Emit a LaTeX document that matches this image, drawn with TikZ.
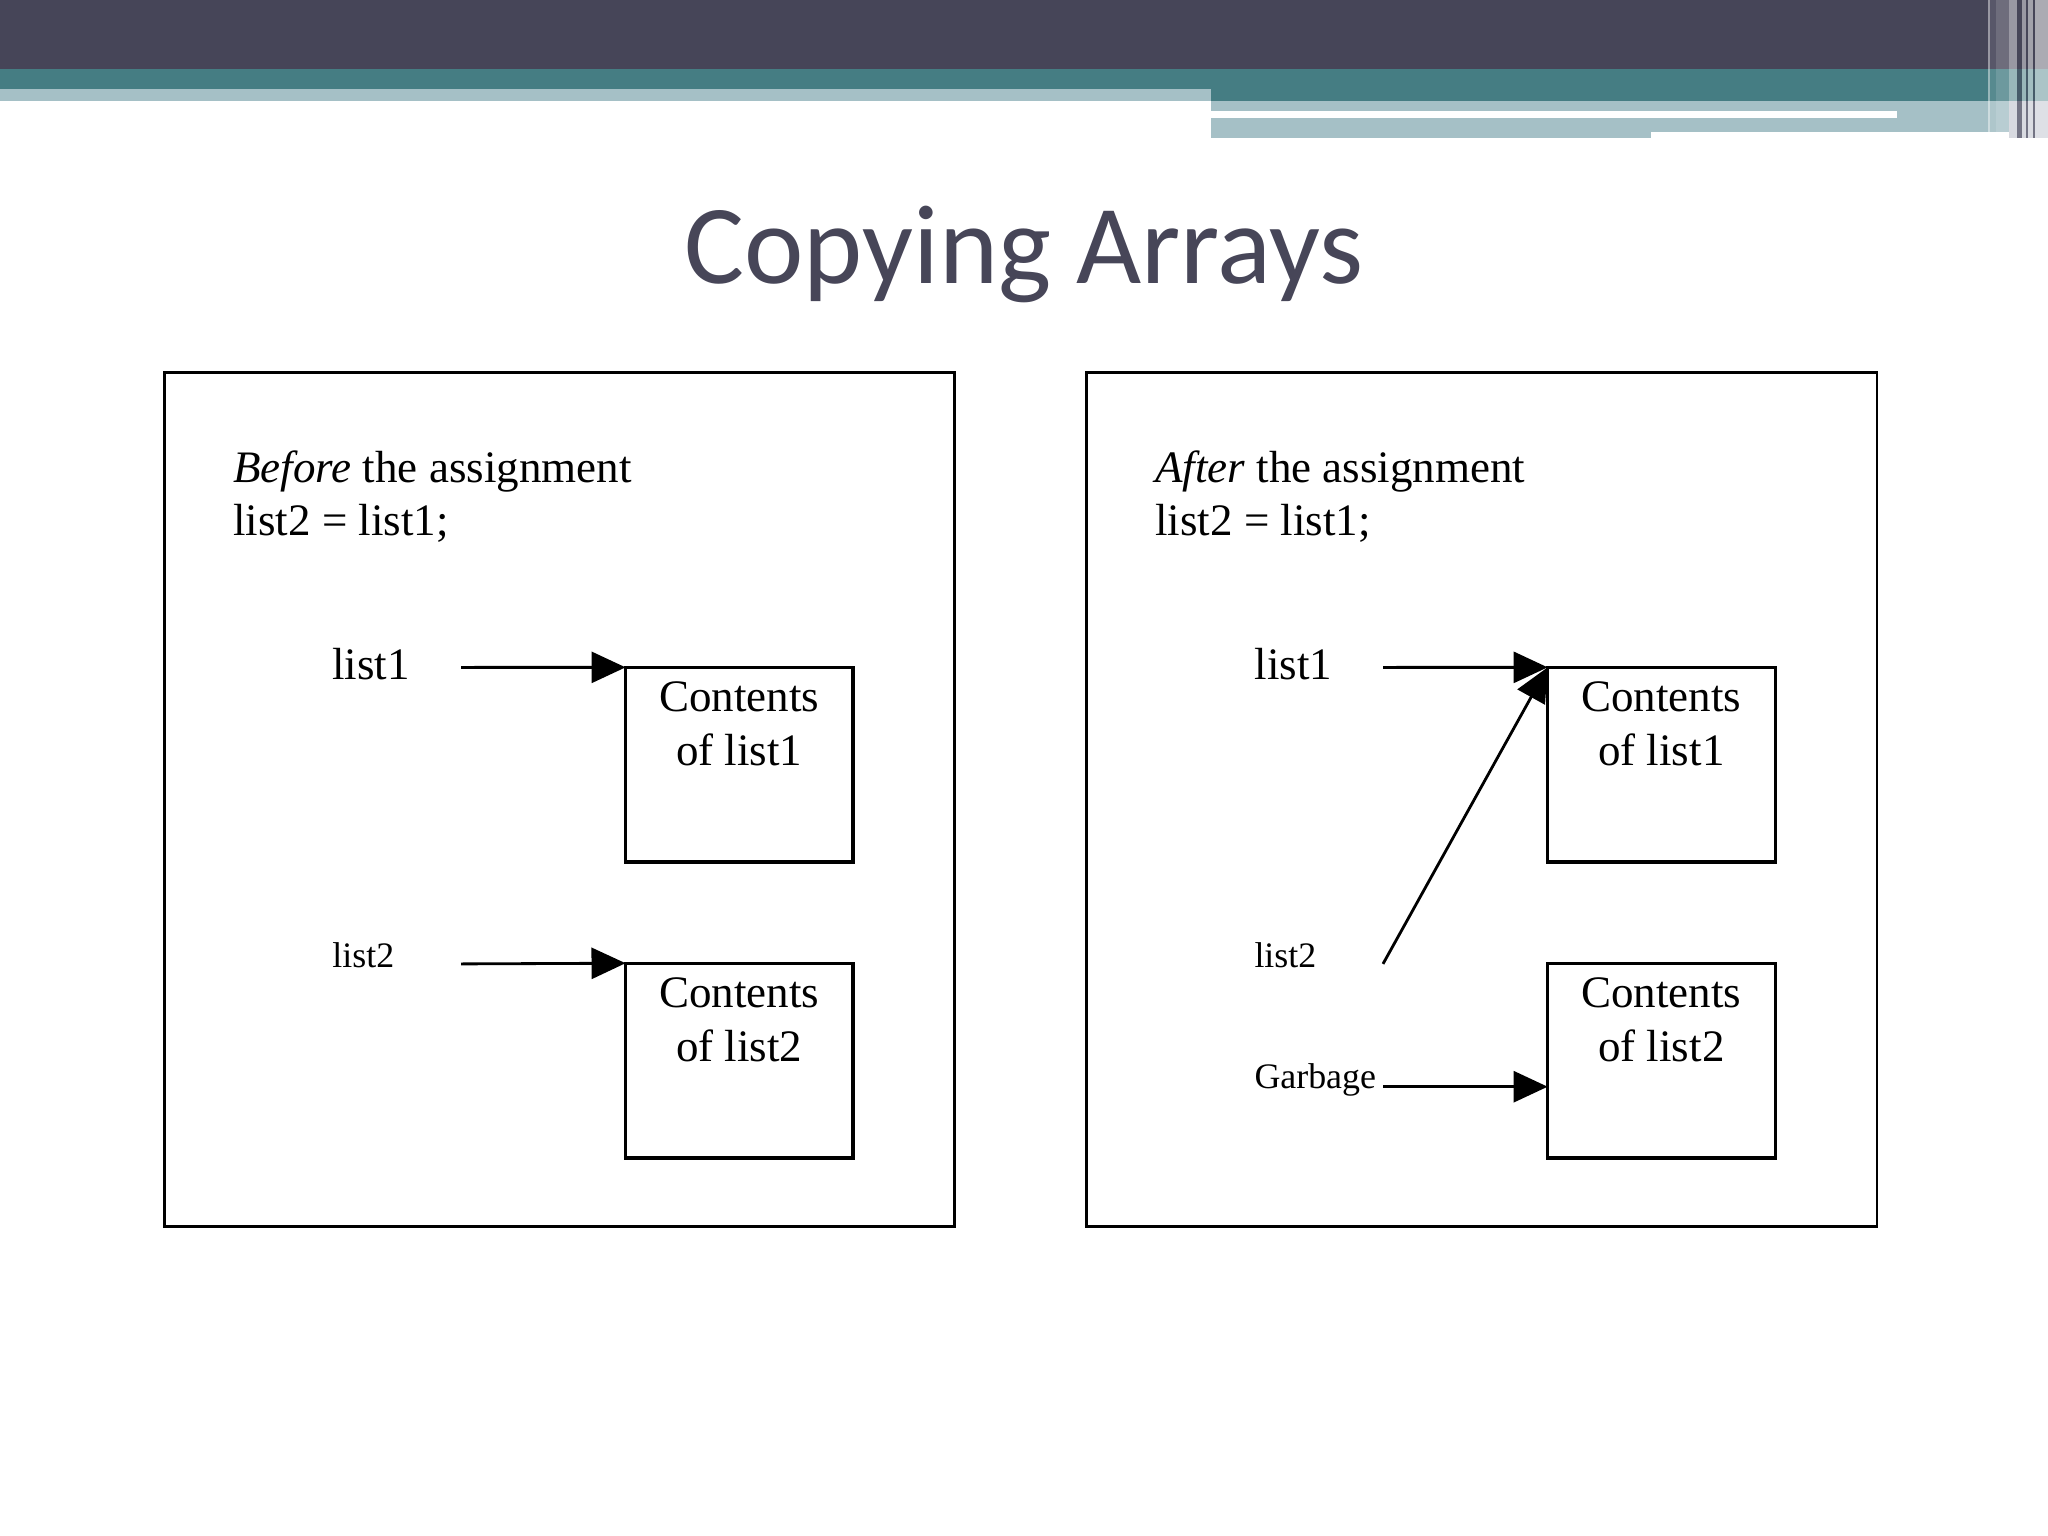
\documentclass[tikz,border=0pt]{standalone}
\usepackage{fontspec}
\setmainfont{Liberation Serif}
\newfontfamily\titlefont{Carlito}
\usetikzlibrary{arrows.meta}

\definecolor{bandDark}{RGB}{70,69,88}
\definecolor{bandTeal}{RGB}{69,125,131}
\definecolor{bandLight}{RGB}{165,192,198}
\definecolor{stripeGray}{RGB}{184,188,200}
\definecolor{titleGray}{RGB}{71,70,88}

\tikzset{
  ptr/.style={-{Triangle[length=3.4mm,width=3.1mm]},line width=0.8pt},
  panel/.style={line width=0.8pt},
  listbox/.style={draw,line width=0.9pt,minimum width=2.273cm,minimum height=1.946cm,inner sep=0pt,outer sep=0pt},
  bigtext/.style={font=\fontsize{12.8}{15.2}\selectfont,inner sep=0pt},
  smalltext/.style={font=\fontsize{10.2}{12}\selectfont,inner sep=0pt},
  boxtext/.style={bigtext,align=center,anchor=north,yshift=-0.141cm},
}

\begin{document}
\begin{tikzpicture}[x=0.01cm,y=-0.01cm]
\useasboundingbox (0,0) rectangle (2048,1536);

% top banner
\fill[bandDark] (0,0) rectangle (2048,69);
\fill[bandTeal] (0,69) rectangle (1211,89);
\fill[bandLight] (0,89) rectangle (1211,100.7);
\fill[bandTeal] (1211,69) rectangle (2048,100.7);
\fill[bandLight] (1211,100.7) rectangle (2009,131.7);
\fill[bandLight] (1211,131.7) rectangle (1651,138);
\fill[white] (1211,111) rectangle (1897,117.7);
\fill[stripeGray] (2009,100.7) rectangle (2048,138);
% stripes at the right end
\fill[white,opacity=0.45] (1988,0) rectangle (1989.5,131.7);
\fill[white,opacity=0.10] (1990,0) rectangle (1996,131.7);
\fill[white,opacity=0.22] (1996,0) rectangle (2009,131.7);
\fill[white,opacity=0.45] (2009,0) rectangle (2017,138);
\fill[bandDark,opacity=0.6] (2017,0) rectangle (2022,138);
\fill[white,opacity=0.45] (2022,0) rectangle (2026,138);
\fill[bandDark,opacity=0.6] (2026,0) rectangle (2028,138);
\fill[white,opacity=0.5] (2028,0) rectangle (2033,138);
\fill[bandDark,opacity=0.6] (2033,0) rectangle (2035,138);
\fill[white,opacity=0.55] (2035,0) rectangle (2048,138);

% title
\node[anchor=base,inner sep=0pt,text=titleGray,font=\titlefont\fontsize{32}{36}\selectfont] (title) at (1024,283) {Copying Arrays};

% before
\draw[panel] (164.6,372.2) rectangle (954.7,1226.4);
\node[bigtext,align=left,anchor=north west] (before) at (232.5,450) {\textit{Before} the assignment\\list2 = list1;};

\node[bigtext,anchor=base west] (l1) at (331.7,679) {list1};
\node[smalltext,anchor=base west] (l2) at (331.7,967.8) {list2};
\coordinate (p1) at (461,667.4);
\coordinate (p2) at (461,963.9);

\node[listbox] (a1) at (739.25,764.7) {};
\node[listbox] (a2) at (739.25,1060.55) {};
\node[boxtext] at (a1.north) {Contents\\of list1};
\node[boxtext] at (a2.north) {Contents\\of list2};

\draw[ptr] (p1) -- (a1.north west);
\draw[ptr] (p2) -- (a2.north west);

% after
\draw[panel] (1086.7,372.2) rectangle (1876.9,1226.4);
\node[bigtext,align=left,anchor=north west] (after) at (1154.6,450) {\textit{After} the assignment\\list2 = list1;};

\node[bigtext,anchor=base west] (r1) at (1253.8,679) {list1};
\node[smalltext,anchor=base west] (r2) at (1253.8,967.8) {list2};
\node[smalltext,anchor=base west] (garbage) at (1253.8,1088) {Garbage};
\coordinate (q1) at (1383,667.4);
\coordinate (q2) at (1383,963.9);
\coordinate (q3) at (1383,1086.7);

\node[listbox] (b1) at (1661.35,764.7) {};
\node[listbox] (b2) at (1661.35,1060.55) {};
\node[boxtext] at (b1.north) {Contents\\of list1};
\node[boxtext] at (b2.north) {Contents\\of list2};

\draw[ptr] (q1) -- (b1.north west);
\draw[ptr] (q2) -- (b1.north west);
\draw[ptr] (q3) -- (b2.west |- q3);

\end{tikzpicture}
\end{document}
